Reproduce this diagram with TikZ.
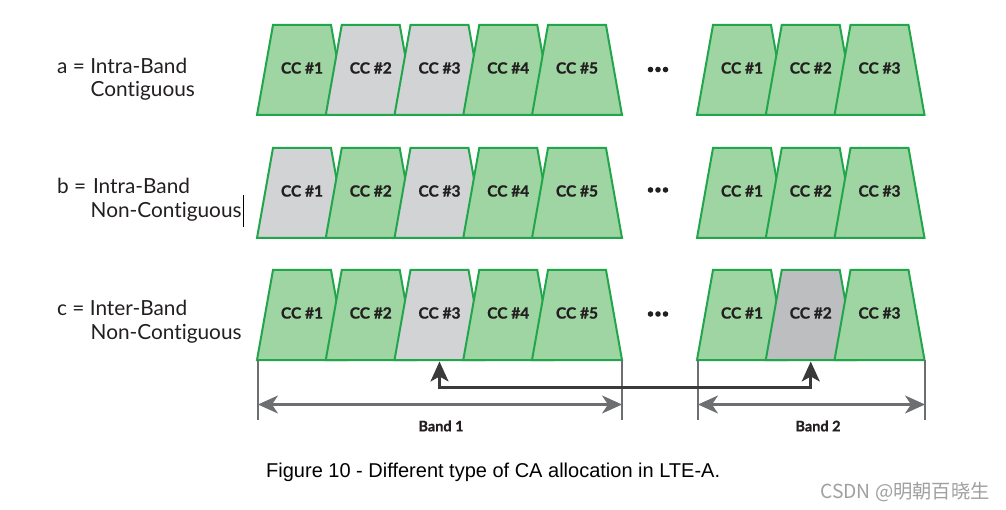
\documentclass[tikz,border=0pt]{standalone}
\usepackage{fontspec}
\setmainfont[Ligatures={NoCommon}]{Lato}
\newfontfamily\ccfont[FakeBold=0.9]{Lato}
\newfontfamily\capfont{Liberation Sans}
\newfontfamily\cjkfont{Noto Sans CJK SC}
\usetikzlibrary{arrows.meta}
\definecolor{ccgreen}{HTML}{9FD4A3}
\definecolor{ccedge}{HTML}{22A64B}
\definecolor{ccgray}{HTML}{D1D3D4}
\definecolor{ccdark}{HTML}{BCBEC0}
\definecolor{inkc}{HTML}{231F20}
\definecolor{bandgray}{HTML}{6D6E71}
\definecolor{connc}{HTML}{3A3A3A}
\definecolor{wmark}{HTML}{A0A0A0}
\tikzset{
  ccshape/.style={draw=ccedge, line width=2pt, line join=miter},
  cclabel/.style={font=\ccfont\bfseries\fontsize{15.5}{15.5}\selectfont, text=inkc, inner sep=0pt},
  rowlabel/.style={font=\fontsize{20.8}{20.8}\selectfont, text=inkc, inner sep=0pt, anchor=base west},
  bandlabel/.style={font=\ccfont\bfseries\fontsize{14.5}{14.5}\selectfont, text=inkc, inner sep=0pt},
  tickline/.style={draw=bandgray, line width=2.3pt},
  bandarrow/.style={draw=bandgray, line width=2.3pt, {Stealth[length=20pt,width=18pt,inset=6pt]}-{Stealth[length=20pt,width=18pt,inset=6pt]}},
  connarrow/.style={draw=connc, line width=2.6pt, {Stealth[length=20pt,width=18pt,inset=5pt]}-{Stealth[length=20pt,width=18pt,inset=5pt]}},
  dotc/.style={fill=inkc}
}
\newcommand\ccbox[5]{%
  \filldraw[ccshape, fill=#4] (#2,#3) -- ++(16,-90) -- ++(58,0) -- ++(16,90) -- cycle;
  \node[cclabel] (#1) at ({#2+45},{#3-47}) {#5};
  \coordinate (#1-b) at ({#2+45},{#3+1.5});
}
\newcommand\threedots[1]{%
  \fill[dotc] (650.5,#1) circle (2.8);
  \fill[dotc] (658,#1) circle (2.8);
  \fill[dotc] (665.5,#1) circle (2.8);
}
\begin{document}
\begin{tikzpicture}[x=1pt, y=-1pt]
\useasboundingbox (0,0) rectangle (1006,510);
\fill[white] (0,0) rectangle (1006,510);

% row labels
\node[rowlabel] (la1) at (57,73.3) {a = Intra-Band};
\node[rowlabel] (la2) at (90.5,97) {Contiguous};
\node[rowlabel] (lb1) at (57,194) {b =\kern1.5pt{} Intra-Band};
\node[rowlabel] (lb2) at (90.5,218) {Non-Contiguous};
\draw[black, line width=1.1pt] (243.5,195) -- (243.5,227);
\node[rowlabel] (lc1) at (57,315.7) {c = Inter-Band};
\node[rowlabel] (lc2) at (90.5,340) {Non-Contiguous};

% row a
\ccbox{a1}{257}{115}{ccgreen}{CC \#1}
\ccbox{a2}{325.75}{115}{ccgray}{CC \#2}
\ccbox{a3}{394.5}{115}{ccgray}{CC \#3}
\ccbox{a4}{463.25}{115}{ccgreen}{CC \#4}
\ccbox{a5}{532}{115}{ccgreen}{CC \#5}
\threedots{69.5}
\ccbox{ar1}{697}{115}{ccgreen}{CC \#1}
\ccbox{ar2}{765.75}{115}{ccgreen}{CC \#2}
\ccbox{ar3}{834.5}{115}{ccgreen}{CC \#3}

% row b
\ccbox{b1}{257}{238}{ccgray}{CC \#1}
\ccbox{b2}{325.75}{238}{ccgreen}{CC \#2}
\ccbox{b3}{394.5}{238}{ccgray}{CC \#3}
\ccbox{b4}{463.25}{238}{ccgreen}{CC \#4}
\ccbox{b5}{532}{238}{ccgreen}{CC \#5}
\threedots{190}
\ccbox{br1}{697}{238}{ccgreen}{CC \#1}
\ccbox{br2}{765.75}{238}{ccgreen}{CC \#2}
\ccbox{br3}{834.5}{238}{ccgreen}{CC \#3}

% row c
\ccbox{c1}{257}{360}{ccgreen}{CC \#1}
\ccbox{c2}{325.75}{360}{ccgreen}{CC \#2}
\ccbox{c3}{394.5}{360}{ccgray}{CC \#3}
\ccbox{c4}{463.25}{360}{ccgreen}{CC \#4}
\ccbox{c5}{532}{360}{ccgreen}{CC \#5}
\threedots{314}
\ccbox{cr1}{697}{360}{ccgreen}{CC \#1}
\ccbox{cr2}{765.75}{360}{ccdark}{CC \#2}
\ccbox{cr3}{834.5}{360}{ccgreen}{CC \#3}

% band ticks
\coordinate (t1) at (258,404.5);
\coordinate (t2) at (622,404.5);
\coordinate (t3) at (698,404.5);
\coordinate (t4) at (925,404.5);
\draw[tickline] (258,360) -- (258,419.5);
\draw[tickline] (622,360) -- (622,419.5);
\draw[tickline] (698,360) -- (698,419.5);
\draw[tickline] (925,360) -- (925,419.5);

% connector between CCs
\draw[connarrow] (c3-b) -- ++(0,25.8) -| (cr2-b);

% band arrows
\draw[bandarrow] (t1) -- (t2);
\draw[bandarrow] (t3) -- (t4);
\node[bandlabel] (band1) at (441,426) {Band 1};
\node[bandlabel] (band2) at (818,426) {Band 2};

% caption
\node[font=\capfont\fontsize{20}{20}\selectfont, text=black, inner sep=0pt, anchor=base west] (cap) at (266,477) {Figure 10 - Different type of CA allocation in LTE-A.};
\node[font=\cjkfont\fontsize{19.3}{19.3}\selectfont, text=wmark, inner sep=0pt, anchor=base west] (wm) at (820,498) {CSDN @明朝百晓生};
\end{tikzpicture}
\end{document}
